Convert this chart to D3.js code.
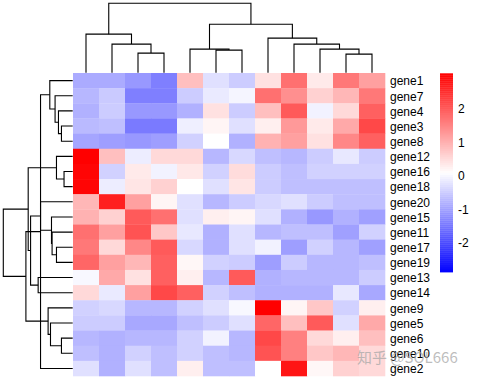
<!DOCTYPE html>
<html>
<head>
<meta charset="utf-8">
<script src="https://cdn.jsdelivr.net/npm/d3@7"></script>
<style>
  html, body { margin: 0; padding: 0; background: #fff; }
  svg { display: block; font-family: 'Liberation Sans', Arial, sans-serif; }
</style>
</head>
<body>
<div id="chart"></div>
<script>
// rows in the order shown (after clustering)
var genes = ['gene1', 'gene7', 'gene4', 'gene3', 'gene8', 'gene12', 'gene16', 'gene18',
    'gene20', 'gene15', 'gene11', 'gene17', 'gene19', 'gene13', 'gene14', 'gene9',
    'gene5', 'gene6', 'gene10', 'gene2'];

// columns in the order shown (no labels drawn)
var samples = ['S1', 'S2', 'S3', 'S4', 'S5', 'S6', 'S7', 'S8', 'S9', 'S10', 'S11', 'S12'];

// values, one row per gene
var values = [
    [-0.88, -0.88, -1.09, -1.39,  0.84, -0.26, -0.49,  0.45,  1.76,  0.34,  1.67,  1.20],
    [-0.73, -0.52, -1.39, -1.39, -0.49, -0.14, -0.02,  1.76,  1.40,  0.63,  0.93,  1.67],
    [-0.80, -0.49, -1.09, -1.09, -0.80,  0.45, -0.49,  0.84,  2.02, -0.05,  0.54,  1.94],
    [-0.70, -0.64, -1.44, -1.44, -0.08,  0.22, -0.26,  0.28,  1.28,  0.34,  1.10,  2.23],
    [-0.94, -1.03, -1.09, -1.03, -0.43,  0.10, -0.80,  0.99,  1.20,  0.45,  1.49,  1.94],
    [ 3.06,  0.84, -0.11,  0.54,  0.54, -0.73, -0.35, -0.64, -0.73, -0.49, -0.17, -0.49],
    [ 3.00, -0.43,  0.34, -0.05,  0.37, -0.43,  0.51, -0.49, -0.64, -0.43, -0.43, -0.43],
    [ 3.00, -0.11,  0.40,  0.63,  0.10, -0.26,  0.40, -0.49, -0.64, -0.64, -0.64, -0.64],
    [ 0.93,  2.70,  1.20,  0.22, -0.26, -0.73, -0.49, -0.35, -0.26, -0.49, -0.64, -0.64],
    [ 0.99,  0.63,  2.02,  1.76, -0.26,  0.28,  0.22, -0.26, -0.80, -1.09, -0.80, -1.00],
    [ 1.76,  1.20,  2.10,  0.75, -0.17, -0.80, -0.26, -0.73, -0.64, -0.64, -1.00, -0.43],
    [ 1.67,  0.54,  1.49,  2.02, -0.35, -0.80, -0.26, -0.05, -1.03, -0.43, -0.73, -1.00],
    [ 1.88,  1.20,  0.93,  1.94,  0.19, -0.43, -0.49, -1.03, -0.49, -0.73, -0.73, -0.64],
    [ 0.02,  1.10,  0.45,  1.94,  0.28, -0.73,  2.02, -0.80, -0.73, -0.73, -0.73, -0.49],
    [ 0.54, -0.14,  1.20,  2.23,  1.94, -0.43, -0.64, -0.80, -0.80, -0.80, -0.17, -0.91],
    [-0.43, -0.35, -0.73, -0.73, -0.43, -0.26,  0.02,  3.06,  0.22,  0.75, -0.43,  0.28],
    [-0.49, -0.49, -0.91, -0.91, -0.64, -0.49, -0.26,  1.88,  0.84,  2.02, -0.26,  1.10],
    [-0.73, -0.80, -0.73, -0.73, -0.43, -0.05, -0.73,  2.23,  1.58,  0.54,  0.28,  0.84],
    [-0.64, -0.80, -0.43, -0.64, -0.43, -0.64, -0.73,  2.10,  1.58,  0.75,  0.93,  0.54],
    [-0.26, -0.80, -0.26, -0.64,  0.28, -0.64, -0.64,  0.10,  2.82,  0.19,  0.63,  0.54]
];

// merges: [left, right, height]; a string is a leaf, a number is an earlier merge
var rowMerge = [
    ['gene3', 'gene8', 1.13],
    ['gene4', 0, 1.43],
    ['gene7', 1, 1.77],
    ['gene1', 2, 2.30],
    ['gene16', 'gene18', 0.87],
    ['gene12', 4, 1.63],
    ['gene17', 'gene19', 1.63],
    ['gene11', 6, 2.07],
    ['gene15', 7, 2.13],
    ['gene6', 'gene10', 1.13],
    ['gene5', 9, 2.23],
    ['gene9', 10, 2.47],
    ['gene20', 8, 3.23],
    [3, 'gene2', 3.23],
    ['gene13', 'gene14', 3.47],
    [12, 14, 4.23],
    [5, 15, 4.47],
    [13, 11, 4.70],
    [16, 17, 6.97]
];

var colMerge = [
    ['S3', 'S4', 1.97],
    ['S2', 0, 2.87],
    ['S1', 1, 3.87],
    ['S6', 'S7', 2.27],
    ['S5', 3, 2.37],
    ['S11', 'S12', 1.87],
    ['S10', 5, 2.37],
    ['S9', 6, 2.87],
    ['S8', 7, 3.47],
    [4, 8, 4.87],
    [2, 9, 6.97]
];

// colour key
var colorMin = -2.86;
var colorMax = 3.06;
var legendTicks = [-2, -1, 0, 1, 2];
var watermark = '知乎 @SOL666';

var width = 480;
var height = 384;
var heat = { left: 73, right: 385, top: 73, bottom: 376 };

var svg = d3.select('#chart').append('svg')
    .attr('width', width)
    .attr('height', height);

var x = d3.scaleBand().domain(samples).range([heat.left, heat.right]);
var y = d3.scaleBand().domain(genes).range([heat.top, heat.bottom]);

var color = d3.scaleLinear()
    .domain([colorMin, (colorMin + colorMax) / 2, colorMax])
    .range(['#0000ff', '#ffffff', '#ff0000'])
    .clamp(true);

// heatmap cells
var cells = [];
values.forEach(function(row, i) {
    row.forEach(function(v, j) {
        cells.push({ gene: genes[i], sample: samples[j], value: v });
    });
});

svg.append('g')
    .selectAll('rect')
    .data(cells)
    .enter()
    .append('rect')
    .attr('x', function(d) { return x(d.sample); })
    .attr('y', function(d) { return y(d.gene); })
    .attr('width', x.bandwidth() + 0.3)
    .attr('height', y.bandwidth() + 0.3)
    .attr('fill', function(d) { return color(d.value); });

/**
 * Turn a merge list into segments: each merge sits at the mean of its children
 */
function treeSegments(merge, leafPos) {
    var nodes = [];
    function at(ref) {
        if (typeof ref === 'string') return { p: leafPos(ref), h: 0 };
        return nodes[ref];
    }
    return merge.map(function(m, i) {
        var a = at(m[0]);
        var b = at(m[1]);
        nodes[i] = { p: (a.p + b.p) / 2, h: m[2] };
        return { a: a, b: b, h: m[2] };
    });
}

// row dendrogram (left)
var rowH = d3.scaleLinear()
    .domain([0, d3.max(rowMerge, function(m) { return m[2]; })])
    .range([heat.left - 0.3, 3.3]);

var rowSegs = treeSegments(rowMerge, function(g) { return y(g) + y.bandwidth() / 2; });

svg.append('g')
    .selectAll('path')
    .data(rowSegs)
    .enter()
    .append('path')
    .attr('fill', 'none')
    .attr('stroke', '#000')
    .attr('stroke-width', 1.1)
    .attr('d', function(s) {
        return 'M' + rowH(s.a.h) + ',' + s.a.p +
            'H' + rowH(s.h) + 'V' + s.b.p + 'H' + rowH(s.b.h);
    });

// column dendrogram (top)
var colH = d3.scaleLinear()
    .domain([0, d3.max(colMerge, function(m) { return m[2]; })])
    .range([heat.top - 0.3, 3.3]);

var colSegs = treeSegments(colMerge, function(s) { return x(s) + x.bandwidth() / 2; });

svg.append('g')
    .selectAll('path')
    .data(colSegs)
    .enter()
    .append('path')
    .attr('fill', 'none')
    .attr('stroke', '#000')
    .attr('stroke-width', 1.1)
    .attr('d', function(s) {
        return 'M' + s.a.p + ',' + colH(s.a.h) +
            'V' + colH(s.h) + 'H' + s.b.p + 'V' + colH(s.b.h);
    });

// row labels
svg.append('g')
    .selectAll('text')
    .data(genes)
    .enter()
    .append('text')
    .attr('x', heat.right + 5)
    .attr('y', function(g) { return y(g) + y.bandwidth() / 2; })
    .attr('dy', '0.4em')
    .attr('font-size', '12px')
    .attr('fill', '#000')
    .text(function(g) { return g; });

// colour key
var key = { left: 440, width: 13, top: 73.3, bottom: 272 };
var keyY = d3.scaleLinear().domain([colorMin, colorMax]).range([key.bottom, key.top]);
var steps = d3.range(100).map(function(i) {
    return colorMin + (colorMax - colorMin) * (i + 0.5) / 100;
});
var stepH = (key.bottom - key.top) / 100;

svg.append('g')
    .selectAll('rect')
    .data(steps)
    .enter()
    .append('rect')
    .attr('x', key.left)
    .attr('y', function(v) { return keyY(v) - stepH / 2; })
    .attr('width', key.width)
    .attr('height', stepH + 0.4)
    .attr('fill', function(v) { return color(v); });

svg.append('g')
    .selectAll('text')
    .data(legendTicks)
    .enter()
    .append('text')
    .attr('x', key.left + key.width + 5)
    .attr('y', function(v) { return keyY(v); })
    .attr('dy', '0.35em')
    .attr('font-size', '12px')
    .attr('fill', '#000')
    .text(function(v) { return v; });

// watermark
svg.append('text')
    .attr('x', 357)
    .attr('y', 363)
    .attr('font-size', '15px')
    .attr('font-family', "'Noto Sans CJK SC', 'Liberation Sans', sans-serif")
    .attr('fill', '#a8a8a8')
    .attr('fill-opacity', 0.75)
    .text(watermark);
</script>
</body>
</html>
